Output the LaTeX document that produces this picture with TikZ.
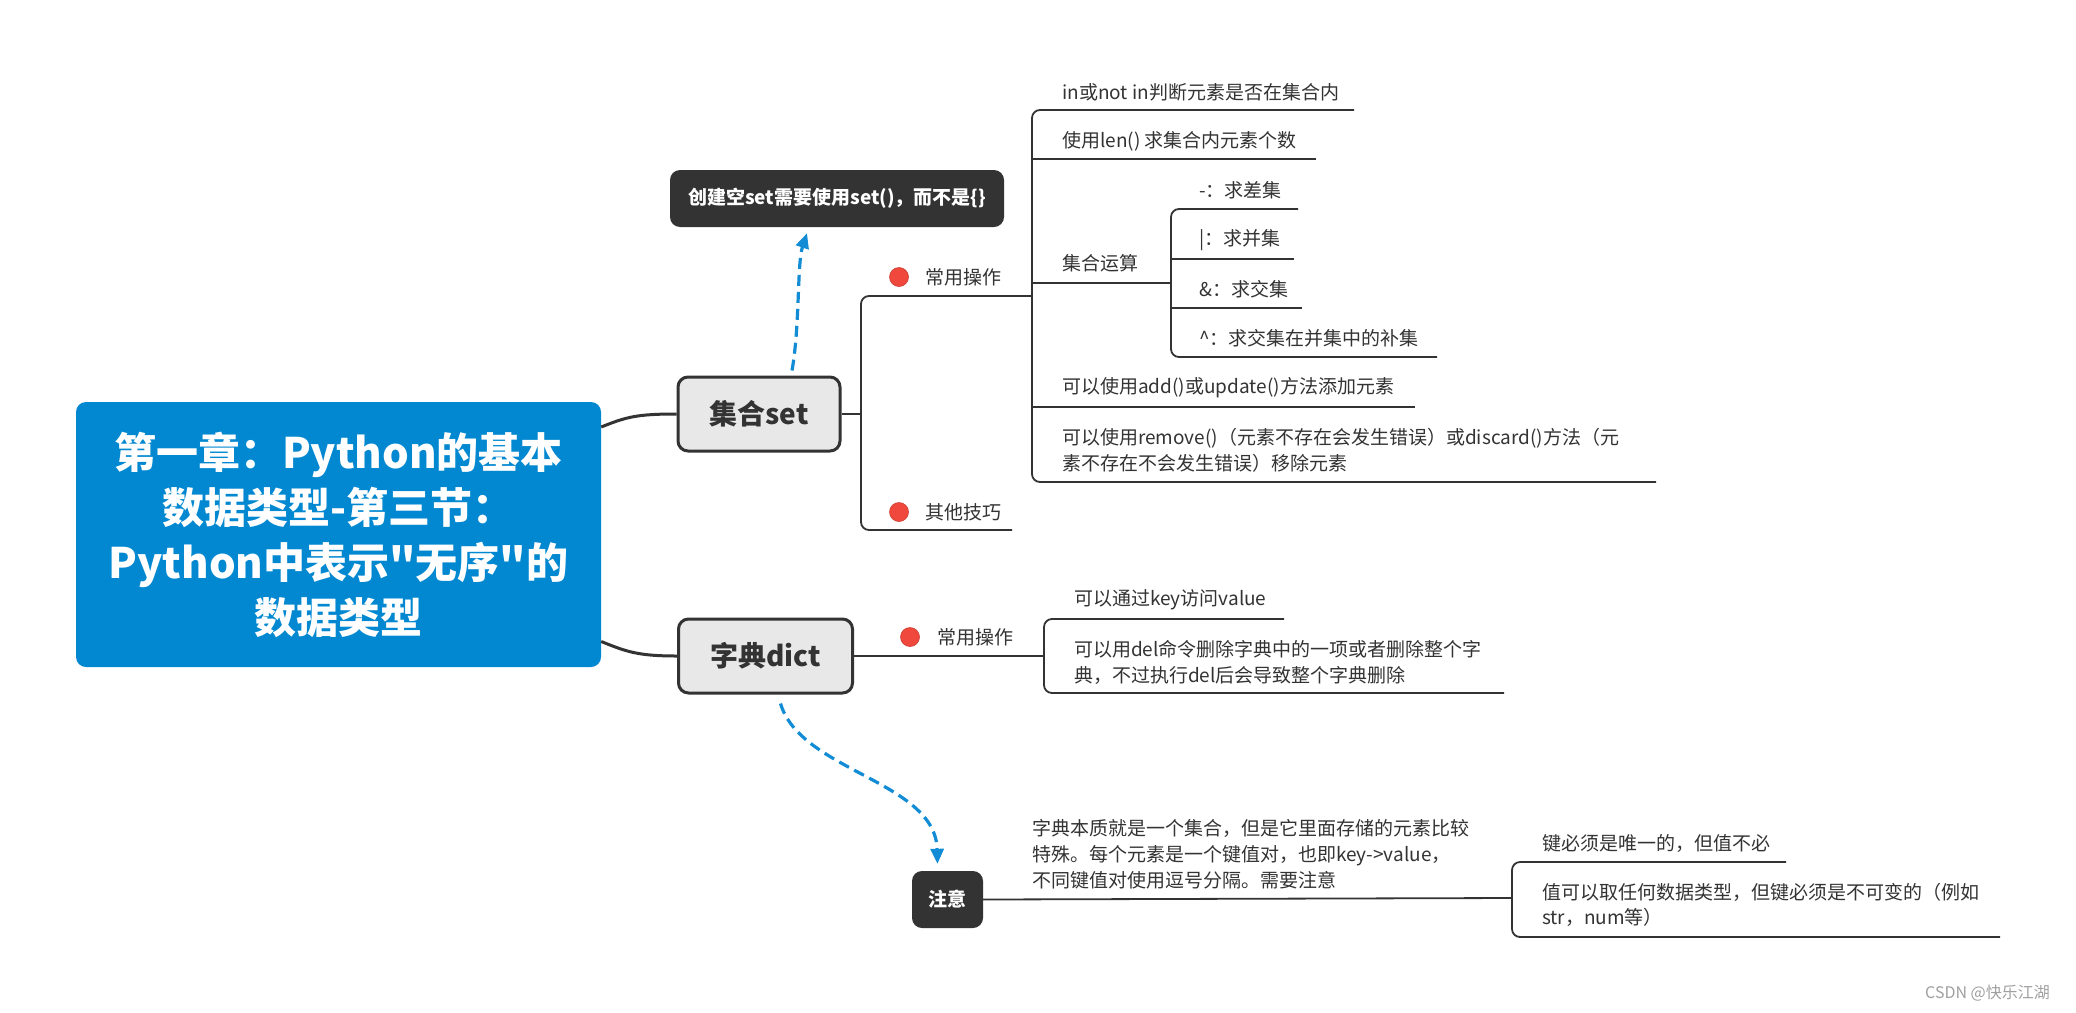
\documentclass[tikz,border=0pt]{standalone}
\usepackage{fontspec}
\setmainfont{Noto Sans CJK SC}[Ligatures=TeXOff]
\usetikzlibrary{arrows.meta}
\definecolor{rootc}{RGB}{2,136,209}
\definecolor{lc}{RGB}{51,51,51}
\definecolor{tc}{RGB}{51,51,51}
\definecolor{topicfill}{RGB}{232,232,232}
\definecolor{darkc}{RGB}{51,51,51}
\definecolor{dotc}{RGB}{240,72,60}
\definecolor{bluea}{RGB}{18,140,212}
\definecolor{wm}{RGB}{160,160,160}
\tikzset{
  br/.style={draw=lc, line width=1.8, rounded corners=8},
  mainc/.style={draw=lc, line width=3},
  lbl/.style={anchor=west, inner sep=0, font=\fontsize{19}{25.5}\selectfont, text=tc, align=left},
  reddot/.style={circle, fill=dotc, draw=dotc!85!black, line width=0.6, minimum size=19, inner sep=0},
  topic/.style={draw=lc, line width=3, fill=topicfill, rounded corners=10, font=\bfseries\fontsize{28}{30}\selectfont, text=tc, inner sep=0},
  darkbox/.style={fill=darkc, rounded corners=10, text=white, font=\bfseries\fontsize{19}{22}\selectfont, inner sep=0},
  rootbox/.style={fill=rootc, rounded corners=10, text=white, font=\bfseries\fontsize{42}{55}\selectfont, align=center, inner sep=0},
  dasharrow/.style={draw=bluea, line width=3.2, dash pattern=on 11 off 6, -{Triangle[length=15,width=13]}}
}
\begin{document}
\begin{tikzpicture}[x=1pt,y=-1pt]
\useasboundingbox[fill=white] (0,0) rectangle (2076,1012);

% root and topics
\node[rootbox, minimum width=525, minimum height=265] (root) at (338.5,534.5)
  {第一章：Python的基本\\数据类型-第三节：\\Python中表示"无序"的\\数据类型};
\node[topic, minimum width=162, minimum height=74] (set) at (759,414) {集合set};
\node[topic, minimum width=174, minimum height=74] (dict) at (765.5,656) {字典dict};
\node[darkbox, minimum width=334, minimum height=57] (note1) at (837,198.5) {创建空set需要使用set()，而不是\{\}};
\node[darkbox, minimum width=71, minimum height=57] (note2) at (947.5,899.5) {注意};

% root connectors
\draw[mainc] ([yshift=107.5pt]root.east) .. controls +(25,-10) and +(-40,0) .. (set.west);
\draw[mainc] ([yshift=-107pt]root.east) .. controls +(25,10) and +(-40,0) .. (dict.west);

% dashed arrows
\draw[dasharrow] ([xshift=33pt,yshift=5pt]set.north) .. controls +(8,-45) and +(-10,30) .. ([xshift=-30pt,yshift=-6pt]note1.south);
\draw[dasharrow] ([xshift=15pt,yshift=-9pt]dict.south) .. controls +(20,68) and +(-2,-83) .. ([xshift=-10pt,yshift=7pt]note2.north);

% set subtree
\coordinate (b1) at (861,414);
\draw[br] (set.east) -- (b1);
\draw[br] (1032,296) -- (861,296) -- (861,530) -- (1012,530);
\node[reddot] (d1) at (899,277) {};
\node[lbl] (op1) at (925,277) {常用操作};
\node[reddot] (d2) at (899,512) {};
\node[lbl] (op2) at (925,512) {其他技巧};

\draw[br] (1354,110) -- (1032,110) -- (1032,482) -- (1656,482);
\draw[br] (1032,159) -- (1316,159);
\draw[br] (1032,283) -- (1171,283);
\draw[br] (1032,407) -- (1415,407);
\node[lbl] (s1) at (1062,92) {in或not in判断元素是否在集合内};
\node[lbl] (s2) at (1062,141) {使用len() 求集合内元素个数};
\node[lbl] (s3) at (1062,263) {集合运算};
\node[lbl] (s4) at (1062,388) {可以使用add()或update()方法添加元素};
\node[lbl] (s5) at (1062,450.5) {可以使用remove()（元素不存在会发生错误）或discard()方法（元\\素不存在不会发生错误）移除元素};

\draw[br] (1298,209) -- (1171,209) -- (1171,357) -- (1437,357);
\draw[br] (1171,259) -- (1294,259);
\draw[br] (1171,308) -- (1302,308);
\node[lbl] (o1) at (1199,190) {-：求差集};
\node[lbl] (o2) at (1199,240) {|：求并集};
\node[lbl] (o3) at (1199,289) {\&：求交集};
\node[lbl] (o4) at (1199,338) {\textasciicircum：求交集在并集中的补集};

% dict subtree
\draw[br] (dict.east) -- (1044,656);
\draw[br] (1284,619) -- (1044,619) -- (1044,693) -- (1504,693);
\node[reddot] (d3) at (910,637) {};
\node[lbl] (op3) at (937,637) {常用操作};
\node[lbl] (k1) at (1074,600) {可以通过key访问value};
\node[lbl] (k2) at (1074,662.5) {可以用del命令删除字典中的一项或者删除整个字\\典，不过执行del后会导致整个字典删除};

% note subtree
\draw[br] (note2.east) -- (1512,898);
\draw[br] (1786,862) -- (1512,862) -- (1512,937) -- (2000,937);
\node[lbl, font=\fontsize{19}{26}\selectfont] (n0) at (1032,854) {字典本质就是一个集合，但是它里面存储的元素比较\\特殊。每个元素是一个键值对，也即key->value，\\不同键值对使用逗号分隔。需要注意};
\node[lbl] (n1) at (1542,843) {键必须是唯一的，但值不必};
\node[lbl] (n2) at (1542,905) {值可以取任何数据类型，但键必须是不可变的（例如\\str，num等）};

% watermark
\node[anchor=west, inner sep=0, font=\fontsize{16}{18}\selectfont, text=wm] (wmk) at (1925,993) {CSDN @快乐江湖};
\end{tikzpicture}
\end{document}
